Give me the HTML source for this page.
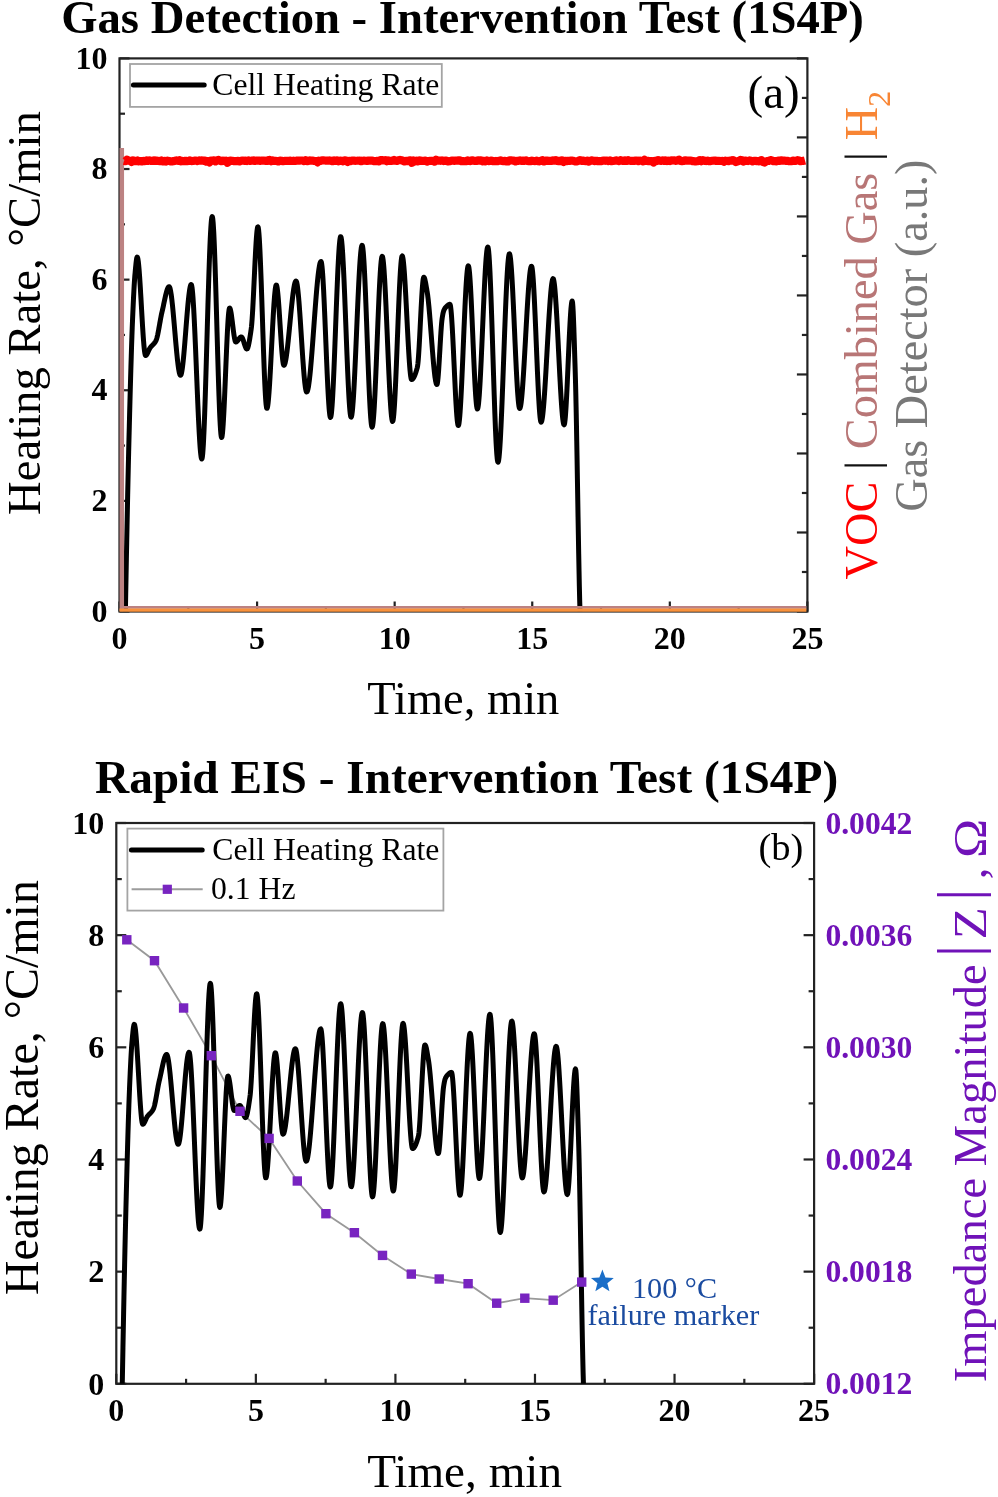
<!DOCTYPE html>
<html><head><meta charset="utf-8"><title>Gas Detection and Rapid EIS - Intervention Test (1S4P)</title>
<style>
html,body{margin:0;padding:0;background:#fff;}
svg{display:block;}
text{font-family:'Liberation Serif', 'Times New Roman', serif;}
</style></head><body>
<svg width="998" height="1497" viewBox="0 0 998 1497">
<rect width="998" height="1497" fill="#fff"/>

<!-- plot a -->
<text x="61.2" y="33.1" font-size="46.7" font-weight="bold" fill="#000">Gas Detection - Intervention Test (1S4P)</text>
<g stroke="#222" stroke-width="2.2" fill="none">
<rect x="119.5" y="58.4" width="687.9" height="553.1"/>
<line x1="119.5" y1="611.50" x2="129.5" y2="611.50"/>
<line x1="119.5" y1="556.19" x2="125.0" y2="556.19"/>
<line x1="119.5" y1="500.88" x2="129.5" y2="500.88"/>
<line x1="119.5" y1="445.57" x2="125.0" y2="445.57"/>
<line x1="119.5" y1="390.26" x2="129.5" y2="390.26"/>
<line x1="119.5" y1="334.95" x2="125.0" y2="334.95"/>
<line x1="119.5" y1="279.64" x2="129.5" y2="279.64"/>
<line x1="119.5" y1="224.33" x2="125.0" y2="224.33"/>
<line x1="119.5" y1="169.02" x2="129.5" y2="169.02"/>
<line x1="119.5" y1="113.71" x2="125.0" y2="113.71"/>
<line x1="119.5" y1="58.40" x2="129.5" y2="58.40"/>
<line x1="119.50" y1="611.5" x2="119.50" y2="601.5"/>
<line x1="188.29" y1="611.5" x2="188.29" y2="606.5"/>
<line x1="257.08" y1="611.5" x2="257.08" y2="601.5"/>
<line x1="325.87" y1="611.5" x2="325.87" y2="606.5"/>
<line x1="394.66" y1="611.5" x2="394.66" y2="601.5"/>
<line x1="463.45" y1="611.5" x2="463.45" y2="606.5"/>
<line x1="532.24" y1="611.5" x2="532.24" y2="601.5"/>
<line x1="601.03" y1="611.5" x2="601.03" y2="606.5"/>
<line x1="669.82" y1="611.5" x2="669.82" y2="601.5"/>
<line x1="738.61" y1="611.5" x2="738.61" y2="606.5"/>
<line x1="807.40" y1="611.5" x2="807.40" y2="601.5"/>
<line x1="807.4" y1="611.50" x2="796.9" y2="611.50"/>
<line x1="807.4" y1="571.99" x2="801.9" y2="571.99"/>
<line x1="807.4" y1="532.49" x2="796.9" y2="532.49"/>
<line x1="807.4" y1="492.98" x2="801.9" y2="492.98"/>
<line x1="807.4" y1="453.47" x2="796.9" y2="453.47"/>
<line x1="807.4" y1="413.96" x2="801.9" y2="413.96"/>
<line x1="807.4" y1="374.46" x2="796.9" y2="374.46"/>
<line x1="807.4" y1="334.95" x2="801.9" y2="334.95"/>
<line x1="807.4" y1="295.44" x2="796.9" y2="295.44"/>
<line x1="807.4" y1="255.94" x2="801.9" y2="255.94"/>
<line x1="807.4" y1="216.43" x2="796.9" y2="216.43"/>
<line x1="807.4" y1="176.92" x2="801.9" y2="176.92"/>
<line x1="807.4" y1="137.41" x2="796.9" y2="137.41"/>
<line x1="807.4" y1="97.91" x2="801.9" y2="97.91"/>
<line x1="807.4" y1="58.40" x2="796.9" y2="58.40"/>
</g>
<polyline points="125.40,611.50 125.72,593.31 126.05,576.06 126.37,559.07 126.70,542.41 127.02,526.13 127.35,510.26 127.67,494.87 128.00,480.01 128.32,465.73 128.65,452.07 128.97,439.08 129.30,426.40 129.62,413.91 129.95,401.68 130.27,389.75 130.60,378.18 130.92,367.03 131.25,356.36 131.57,346.22 131.90,336.67 132.22,327.77 132.55,319.56 132.87,312.03 133.20,304.81 133.52,297.94 133.85,291.53 134.17,285.67 134.50,280.47 134.82,276.05 135.15,272.38 135.47,268.82 135.80,265.40 136.12,262.32 136.45,259.77 136.77,257.95 137.10,257.06 137.42,257.20 137.75,258.20 138.07,259.97 138.40,262.44 138.72,265.54 139.05,269.20 139.37,273.36 139.70,277.95 140.02,282.89 140.35,288.13 140.67,293.58 141.00,299.19 141.32,304.88 141.65,310.60 141.97,316.25 142.30,321.79 142.62,327.14 142.95,332.23 143.27,337.00 143.60,341.37 143.92,345.28 144.25,348.66 144.57,351.43 144.90,353.54 145.22,354.92 145.55,355.49 145.87,355.44 146.20,355.23 146.52,354.87 146.85,354.40 147.17,353.84 147.50,353.20 147.82,352.50 148.15,351.77 148.47,351.03 148.80,350.30 149.12,349.60 149.45,348.94 149.77,348.36 150.10,347.86 150.42,347.42 150.75,347.01 151.07,346.63 151.40,346.27 151.72,345.93 152.05,345.60 152.37,345.27 152.70,344.95 153.02,344.62 153.35,344.29 153.67,343.93 154.00,343.56 154.32,343.17 154.65,342.74 154.97,342.27 155.30,341.77 155.62,341.21 155.94,340.61 156.27,339.89 156.59,338.98 156.92,337.88 157.24,336.62 157.57,335.21 157.89,333.69 158.22,332.06 158.54,330.34 158.87,328.56 159.19,326.74 159.52,324.89 159.84,323.03 160.17,321.19 160.49,319.38 160.82,317.62 161.14,315.94 161.47,314.35 161.79,312.87 162.12,311.51 162.44,310.12 162.77,308.67 163.09,307.18 163.42,305.66 163.74,304.11 164.07,302.56 164.39,301.01 164.72,299.48 165.04,297.98 165.37,296.52 165.69,295.11 166.02,293.77 166.34,292.50 166.67,291.33 166.99,290.26 167.32,289.31 167.64,288.49 167.97,287.80 168.29,287.27 168.62,286.91 168.94,286.72 169.27,286.76 169.59,287.18 169.92,288.00 170.24,289.19 170.57,290.73 170.89,292.58 171.22,294.73 171.54,297.16 171.87,299.83 172.19,302.72 172.52,305.81 172.84,309.07 173.17,312.48 173.49,316.02 173.82,319.65 174.14,323.36 174.47,327.12 174.79,330.91 175.12,334.69 175.44,338.45 175.77,342.16 176.09,345.80 176.42,349.34 176.74,352.76 177.07,356.03 177.39,359.13 177.72,362.03 178.04,364.71 178.37,367.15 178.69,369.32 179.02,371.19 179.34,372.74 179.67,373.95 179.99,374.79 180.32,375.23 180.64,375.25 180.97,374.80 181.29,373.89 181.62,372.54 181.94,370.81 182.27,368.70 182.59,366.26 182.92,363.51 183.24,360.48 183.57,357.21 183.89,353.73 184.22,350.06 184.54,346.24 184.87,342.29 185.19,338.26 185.52,334.16 185.84,330.03 186.16,325.90 186.49,321.79 186.81,317.75 187.14,313.80 187.46,309.97 187.79,306.29 188.11,302.80 188.44,299.51 188.76,296.47 189.09,293.70 189.41,291.24 189.74,289.11 190.06,287.35 190.39,285.98 190.71,285.04 191.04,284.56 191.36,284.62 191.69,285.58 192.01,287.43 192.34,290.11 192.66,293.57 192.99,297.73 193.31,302.55 193.64,307.96 193.96,313.90 194.29,320.31 194.61,327.13 194.94,334.31 195.26,341.77 195.59,349.46 195.91,357.32 196.24,365.29 196.56,373.31 196.89,381.32 197.21,389.25 197.54,397.06 197.86,404.67 198.19,412.02 198.51,419.07 198.84,425.74 199.16,431.97 199.49,437.71 199.81,442.90 200.14,447.47 200.46,451.37 200.79,454.53 201.11,456.89 201.44,458.40 201.76,458.99 202.09,458.45 202.41,456.58 202.74,453.45 203.06,449.15 203.39,443.78 203.71,437.42 204.04,430.17 204.36,422.10 204.69,413.32 205.01,403.90 205.34,393.94 205.66,383.52 205.99,372.74 206.31,361.69 206.64,350.44 206.96,339.10 207.29,327.74 207.61,316.46 207.94,305.35 208.26,294.50 208.59,283.99 208.91,273.91 209.24,264.36 209.56,255.42 209.89,247.17 210.21,239.72 210.54,233.14 210.86,227.53 211.19,222.97 211.51,219.55 211.84,217.37 212.16,216.51 212.49,217.10 212.81,219.18 213.14,222.63 213.46,227.36 213.79,233.24 214.11,240.17 214.44,248.05 214.76,256.75 215.09,266.18 215.41,276.22 215.74,286.76 216.06,297.69 216.38,308.91 216.71,320.30 217.03,331.76 217.36,343.16 217.68,354.42 218.01,365.41 218.33,376.02 218.66,386.16 218.98,395.69 219.31,404.53 219.63,412.55 219.96,419.65 220.28,425.72 220.61,430.65 220.93,434.33 221.26,436.65 221.58,437.50 221.91,436.94 222.23,435.19 222.56,432.36 222.88,428.56 223.21,423.89 223.53,418.46 223.86,412.36 224.18,405.70 224.51,398.59 224.83,391.13 225.16,383.43 225.48,375.58 225.81,367.69 226.13,359.88 226.46,352.23 226.78,344.86 227.11,337.86 227.43,331.35 227.76,325.43 228.08,320.20 228.41,315.77 228.73,312.23 229.06,309.70 229.38,308.28 229.71,308.03 230.03,308.47 230.36,309.40 230.68,310.75 231.01,312.46 231.33,314.48 231.66,316.75 231.98,319.20 232.31,321.79 232.63,324.44 232.96,327.11 233.28,329.73 233.61,332.25 233.93,334.60 234.26,336.73 234.58,338.58 234.91,340.09 235.23,341.20 235.56,341.85 235.88,342.00 236.21,341.92 236.53,341.75 236.86,341.51 237.18,341.20 237.51,340.83 237.83,340.43 238.16,339.99 238.48,339.55 238.81,339.09 239.13,338.65 239.46,338.24 239.78,337.85 240.11,337.52 240.43,337.24 240.76,337.04 241.08,336.92 241.41,336.91 241.73,337.10 242.06,337.50 242.38,338.08 242.71,338.80 243.03,339.65 243.36,340.59 243.68,341.60 244.01,342.64 244.33,343.69 244.66,344.73 244.98,345.71 245.31,346.61 245.63,347.42 245.96,348.08 246.28,348.59 246.61,348.90 246.93,349.00 247.25,348.80 247.58,348.28 247.90,347.47 248.23,346.39 248.55,345.08 248.88,343.56 249.20,341.86 249.53,340.00 249.85,338.01 250.18,335.92 250.50,333.76 250.83,331.54 251.15,329.31 251.48,326.72 251.80,323.22 252.13,318.92 252.45,313.91 252.78,308.32 253.10,302.24 253.43,295.78 253.75,289.06 254.08,282.18 254.40,275.26 254.73,268.39 255.05,261.69 255.38,255.27 255.70,249.23 256.03,243.68 256.35,238.74 256.68,234.50 257.00,231.09 257.33,228.60 257.65,227.15 257.98,226.84 258.30,227.86 258.63,230.17 258.95,233.68 259.28,238.27 259.60,243.85 259.93,250.32 260.25,257.56 260.58,265.48 260.90,273.98 261.23,282.95 261.55,292.29 261.88,301.90 262.20,311.67 262.53,321.51 262.85,331.30 263.18,340.95 263.50,350.36 263.83,359.42 264.15,368.03 264.48,376.08 264.80,383.48 265.13,390.12 265.45,395.90 265.78,400.72 266.10,404.47 266.43,407.05 266.75,408.35 267.08,408.37 267.40,407.48 267.73,405.80 268.05,403.39 268.38,400.32 268.70,396.63 269.03,392.40 269.35,387.69 269.68,382.55 270.00,377.04 270.33,371.24 270.65,365.20 270.98,358.98 271.30,352.64 271.63,346.24 271.95,339.85 272.28,333.52 272.60,327.33 272.93,321.32 273.25,315.56 273.58,310.11 273.90,305.03 274.23,300.39 274.55,296.24 274.88,292.65 275.20,289.68 275.53,287.38 275.85,285.82 276.18,285.06 276.50,285.16 276.83,286.10 277.15,287.79 277.47,290.16 277.80,293.15 278.12,296.66 278.45,300.64 278.77,305.00 279.10,309.66 279.42,314.56 279.75,319.61 280.07,324.75 280.40,329.89 280.72,334.96 281.05,339.88 281.37,344.59 281.70,349.00 282.02,353.04 282.35,356.63 282.67,359.71 283.00,362.18 283.32,363.99 283.65,365.04 283.97,365.29 284.30,365.03 284.62,364.43 284.95,363.51 285.27,362.29 285.60,360.78 285.92,359.02 286.25,357.01 286.57,354.77 286.90,352.34 287.22,349.72 287.55,346.93 287.87,344.00 288.20,340.95 288.52,337.79 288.85,334.54 289.17,331.23 289.50,327.87 289.82,324.48 290.15,321.08 290.47,317.70 290.80,314.35 291.12,311.05 291.45,307.82 291.77,304.68 292.10,301.65 292.42,298.75 292.75,296.00 293.07,293.42 293.40,291.02 293.72,288.84 294.05,286.88 294.37,285.17 294.70,283.72 295.02,282.56 295.35,281.71 295.67,281.18 296.00,281.00 296.32,281.30 296.65,282.17 296.97,283.58 297.30,285.50 297.62,287.88 297.95,290.68 298.27,293.88 298.60,297.44 298.92,301.30 299.25,305.45 299.57,309.84 299.90,314.43 300.22,319.20 300.55,324.08 300.87,329.07 301.20,334.10 301.52,339.16 301.85,344.19 302.17,349.17 302.50,354.06 302.82,358.81 303.15,363.39 303.47,367.77 303.80,371.90 304.12,375.76 304.45,379.29 304.77,382.47 305.10,385.26 305.42,387.62 305.75,389.51 306.07,390.89 306.40,391.73 306.72,392.00 307.05,391.78 307.37,391.17 307.69,390.19 308.02,388.87 308.34,387.22 308.67,385.25 308.99,383.00 309.32,380.47 309.64,377.68 309.97,374.65 310.29,371.41 310.62,367.96 310.94,364.33 311.27,360.54 311.59,356.60 311.92,352.54 312.24,348.36 312.57,344.10 312.89,339.76 313.22,335.37 313.54,330.94 313.87,326.49 314.19,322.05 314.52,317.62 314.84,313.23 315.17,308.90 315.49,304.65 315.82,300.48 316.14,296.43 316.47,292.51 316.79,288.73 317.12,285.13 317.44,281.70 317.77,278.48 318.09,275.48 318.42,272.73 318.74,270.23 319.07,268.00 319.39,266.07 319.72,264.46 320.04,263.18 320.37,262.24 320.69,261.68 321.02,261.50 321.34,262.09 321.67,263.70 321.99,266.25 322.32,269.66 322.64,273.87 322.97,278.79 323.29,284.35 323.62,290.48 323.94,297.10 324.27,304.14 324.59,311.51 324.92,319.16 325.24,326.99 325.57,334.95 325.89,342.94 326.22,350.91 326.54,358.76 326.87,366.43 327.19,373.85 327.52,380.93 327.84,387.61 328.17,393.80 328.49,399.44 328.82,404.45 329.14,408.75 329.47,412.26 329.79,414.93 330.12,416.66 330.44,417.38 330.77,417.04 331.09,415.65 331.42,413.29 331.74,410.02 332.07,405.92 332.39,401.06 332.72,395.51 333.04,389.33 333.37,382.61 333.69,375.39 334.02,367.77 334.34,359.81 334.67,351.57 334.99,343.13 335.32,334.56 335.64,325.93 335.97,317.30 336.29,308.76 336.62,300.37 336.94,292.19 337.27,284.30 337.59,276.77 337.91,269.68 338.24,263.08 338.56,257.05 338.89,251.66 339.21,246.98 339.54,243.09 339.86,240.04 340.19,237.91 340.51,236.78 340.84,236.70 341.16,237.65 341.49,239.56 341.81,242.38 342.14,246.02 342.46,250.43 342.79,255.53 343.11,261.28 343.44,267.58 343.76,274.39 344.09,281.63 344.41,289.24 344.74,297.16 345.06,305.31 345.39,313.62 345.71,322.05 346.04,330.51 346.36,338.94 346.69,347.28 347.01,355.46 347.34,363.41 347.66,371.07 347.99,378.37 348.31,385.25 348.64,391.63 348.96,397.46 349.29,402.66 349.61,407.18 349.94,410.94 350.26,413.88 350.59,415.93 350.91,417.03 351.24,417.12 351.56,416.31 351.89,414.68 352.21,412.28 352.54,409.16 352.86,405.38 353.19,400.98 353.51,396.02 353.84,390.56 354.16,384.65 354.49,378.34 354.81,371.68 355.14,364.73 355.46,357.54 355.79,350.17 356.11,342.66 356.44,335.07 356.76,327.46 357.09,319.87 357.41,312.36 357.74,304.98 358.06,297.79 358.39,290.84 358.71,284.19 359.04,277.87 359.36,271.96 359.69,266.50 360.01,261.54 360.34,257.14 360.66,253.35 360.99,250.23 361.31,247.83 361.64,246.19 361.96,245.38 362.29,245.49 362.61,246.67 362.94,248.90 363.26,252.08 363.59,256.15 363.91,261.02 364.24,266.63 364.56,272.90 364.89,279.76 365.21,287.12 365.54,294.93 365.86,303.09 366.19,311.53 366.51,320.19 366.84,328.98 367.16,337.84 367.49,346.68 367.81,355.43 368.13,364.02 368.46,372.37 368.78,380.41 369.11,388.06 369.43,395.24 369.76,401.89 370.08,407.92 370.41,413.27 370.73,417.86 371.06,421.60 371.38,424.44 371.71,426.29 372.03,427.08 372.36,426.77 372.68,425.45 373.01,423.20 373.33,420.07 373.66,416.15 373.98,411.49 374.31,406.16 374.63,400.24 374.96,393.79 375.28,386.88 375.61,379.58 375.93,371.96 376.26,364.08 376.58,356.01 376.91,347.82 377.23,339.58 377.56,331.36 377.88,323.23 378.21,315.25 378.53,307.49 378.86,300.02 379.18,292.91 379.51,286.23 379.83,280.05 380.16,274.42 380.48,269.43 380.81,265.14 381.13,261.62 381.46,258.93 381.78,257.15 382.11,256.34 382.43,256.54 382.76,257.67 383.08,259.66 383.41,262.46 383.73,266.00 384.06,270.22 384.38,275.06 384.71,280.46 385.03,286.36 385.36,292.71 385.68,299.43 386.01,306.47 386.33,313.77 386.66,321.28 386.98,328.91 387.31,336.63 387.63,344.36 387.96,352.06 388.28,359.64 388.61,367.07 388.93,374.26 389.26,381.18 389.58,387.75 389.91,393.91 390.23,399.61 390.56,404.78 390.88,409.36 391.21,413.30 391.53,416.53 391.86,418.99 392.18,420.62 392.51,421.36 392.83,421.12 393.16,419.80 393.48,417.48 393.81,414.23 394.13,410.13 394.46,405.25 394.78,399.68 395.11,393.48 395.43,386.74 395.76,379.54 396.08,371.95 396.41,364.04 396.73,355.90 397.06,347.60 397.38,339.21 397.71,330.83 398.03,322.51 398.35,314.35 398.68,306.41 399.00,298.77 399.33,291.51 399.65,284.71 399.98,278.45 400.30,272.80 400.63,267.83 400.95,263.63 401.28,260.27 401.60,257.83 401.93,256.39 402.25,256.01 402.58,256.59 402.90,257.98 403.23,260.12 403.55,262.95 403.88,266.41 404.20,270.45 404.53,274.99 404.85,279.97 405.18,285.35 405.50,291.04 405.83,297.00 406.15,303.17 406.48,309.47 406.80,315.85 407.13,322.25 407.45,328.61 407.78,334.86 408.10,340.95 408.43,346.81 408.75,352.38 409.08,357.60 409.40,362.42 409.73,366.76 410.05,370.57 410.38,373.78 410.70,376.34 411.03,378.18 411.35,379.25 411.68,379.50 412.00,379.42 412.33,379.25 412.65,378.99 412.98,378.64 413.30,378.21 413.63,377.70 413.95,377.11 414.28,376.44 414.60,375.71 414.93,374.92 415.25,374.06 415.58,373.14 415.90,372.18 416.23,371.16 416.55,370.10 416.88,368.99 417.20,367.85 417.53,366.42 417.85,364.00 418.18,360.65 418.50,356.51 418.83,351.68 419.15,346.29 419.48,340.44 419.80,334.27 420.13,327.88 420.45,321.40 420.78,314.94 421.10,308.62 421.43,302.55 421.75,296.87 422.08,291.68 422.40,287.10 422.73,283.25 423.05,280.25 423.38,278.21 423.70,277.26 424.03,277.31 424.35,277.83 424.68,278.73 425.00,279.94 425.33,281.42 425.65,283.09 425.98,284.91 426.30,286.82 426.63,288.75 426.95,290.65 427.28,292.54 427.60,294.73 427.93,297.24 428.25,300.06 428.57,303.15 428.90,306.48 429.22,310.02 429.55,313.75 429.87,317.64 430.20,321.65 430.52,325.76 430.85,329.93 431.17,334.15 431.50,338.39 431.82,342.60 432.15,346.78 432.47,350.87 432.80,354.87 433.12,358.73 433.45,362.44 433.77,365.96 434.10,369.26 434.42,372.31 434.75,375.09 435.07,377.57 435.40,379.71 435.72,381.50 436.05,382.90 436.37,383.87 436.70,384.41 437.02,384.41 437.35,383.37 437.67,381.27 438.00,378.25 438.32,374.45 438.65,370.00 438.97,365.05 439.30,359.72 439.62,354.17 439.95,348.51 440.27,342.90 440.60,337.48 440.92,332.37 441.25,327.71 441.57,323.65 441.90,320.32 442.22,317.86 442.55,315.89 442.87,314.10 443.20,312.55 443.52,311.29 443.85,310.39 444.17,309.68 444.50,309.06 444.82,308.50 445.15,308.02 445.47,307.59 445.80,307.20 446.12,306.86 446.45,306.55 446.77,306.25 447.10,305.95 447.42,305.65 447.75,305.37 448.07,305.11 448.40,304.87 448.72,304.67 449.05,304.50 449.37,304.38 449.70,304.31 450.02,304.38 450.35,305.29 450.67,307.18 451.00,309.96 451.32,313.54 451.65,317.85 451.97,322.79 452.30,328.28 452.62,334.24 452.95,340.58 453.27,347.22 453.60,354.08 453.92,361.07 454.25,368.11 454.57,375.10 454.90,381.98 455.22,388.65 455.55,395.02 455.87,401.03 456.20,406.57 456.52,411.57 456.85,415.95 457.17,419.61 457.50,422.47 457.82,424.46 458.15,425.48 458.47,425.46 458.79,424.46 459.12,422.55 459.44,419.80 459.77,416.26 460.09,412.01 460.42,407.10 460.74,401.62 461.07,395.62 461.39,389.16 461.72,382.32 462.04,375.16 462.37,367.75 462.69,360.15 463.02,352.42 463.34,344.64 463.67,336.87 463.99,329.17 464.32,321.61 464.64,314.26 464.97,307.18 465.29,300.44 465.62,294.10 465.94,288.23 466.27,282.90 466.59,278.17 466.92,274.11 467.24,270.77 467.57,268.24 467.89,266.57 468.22,265.83 468.54,266.10 468.87,267.41 469.19,269.67 469.52,272.81 469.84,276.76 470.17,281.43 470.49,286.74 470.82,292.62 471.14,299.00 471.47,305.78 471.79,312.90 472.12,320.27 472.44,327.81 472.77,335.46 473.09,343.12 473.42,350.73 473.74,358.20 474.07,365.45 474.39,372.41 474.72,379.00 475.04,385.14 475.37,390.76 475.69,395.76 476.02,400.08 476.34,403.64 476.67,406.36 476.99,408.16 477.32,408.96 477.64,408.74 477.97,407.61 478.29,405.63 478.62,402.87 478.94,399.38 479.27,395.22 479.59,390.45 479.92,385.13 480.24,379.33 480.57,373.09 480.89,366.49 481.22,359.57 481.54,352.40 481.87,345.03 482.19,337.53 482.52,329.96 482.84,322.37 483.17,314.83 483.49,307.39 483.82,300.11 484.14,293.05 484.47,286.28 484.79,279.84 485.12,273.81 485.44,268.23 485.77,263.17 486.09,258.69 486.42,254.85 486.74,251.70 487.07,249.31 487.39,247.73 487.72,247.03 488.04,247.35 488.37,248.91 488.69,251.63 489.02,255.43 489.34,260.23 489.66,265.95 489.99,272.50 490.31,279.79 490.64,287.75 490.96,296.29 491.29,305.33 491.61,314.78 491.94,324.56 492.26,334.59 492.59,344.78 492.91,355.05 493.24,365.32 493.56,375.50 493.89,385.51 494.21,395.27 494.54,404.69 494.86,413.68 495.19,422.18 495.51,430.08 495.84,437.31 496.16,443.79 496.49,449.43 496.81,454.14 497.14,457.86 497.46,460.48 497.79,461.93 498.11,462.14 498.44,461.30 498.76,459.52 499.09,456.86 499.41,453.39 499.74,449.14 500.06,444.19 500.39,438.60 500.71,432.41 501.04,425.69 501.36,418.49 501.69,410.88 502.01,402.91 502.34,394.64 502.66,386.13 502.99,377.43 503.31,368.61 503.64,359.71 503.96,350.81 504.29,341.95 504.61,333.19 504.94,324.60 505.26,316.23 505.59,308.14 505.91,300.38 506.24,293.02 506.56,286.11 506.89,279.71 507.21,273.88 507.54,268.68 507.86,264.16 508.19,260.38 508.51,257.40 508.84,255.28 509.16,254.07 509.49,253.83 509.81,254.52 510.14,256.06 510.46,258.39 510.79,261.45 511.11,265.19 511.44,269.55 511.76,274.46 512.09,279.88 512.41,285.73 512.74,291.97 513.06,298.54 513.39,305.37 513.71,312.41 514.04,319.61 514.36,326.89 514.69,334.21 515.01,341.50 515.34,348.71 515.66,355.78 515.99,362.65 516.31,369.27 516.64,375.57 516.96,381.49 517.29,386.98 517.61,391.98 517.94,396.43 518.26,400.28 518.59,403.46 518.91,405.91 519.24,407.58 519.56,408.42 519.88,408.40 520.21,407.73 520.53,406.46 520.86,404.65 521.18,402.31 521.51,399.49 521.83,396.21 522.16,392.53 522.48,388.47 522.81,384.06 523.13,379.35 523.46,374.37 523.78,369.16 524.11,363.74 524.43,358.16 524.76,352.46 525.08,346.66 525.41,340.80 525.73,334.93 526.06,329.07 526.38,323.25 526.71,317.53 527.03,311.93 527.36,306.48 527.68,301.23 528.01,296.20 528.33,291.44 528.66,286.98 528.98,282.86 529.31,279.10 529.63,275.76 529.96,272.85 530.28,270.43 530.61,268.52 530.93,267.15 531.26,266.38 531.58,266.23 531.91,267.02 532.23,268.79 532.56,271.46 532.88,274.98 533.21,279.25 533.53,284.22 533.86,289.80 534.18,295.94 534.51,302.54 534.83,309.54 535.16,316.88 535.48,324.46 535.81,332.23 536.13,340.11 536.46,348.03 536.78,355.91 537.11,363.69 537.43,371.28 537.76,378.62 538.08,385.64 538.41,392.26 538.73,398.40 539.06,404.01 539.38,409.00 539.71,413.30 540.03,416.83 540.36,419.54 540.68,421.34 541.01,422.16 541.33,422.04 541.66,421.30 541.98,419.99 542.31,418.14 542.63,415.79 542.96,412.96 543.28,409.70 543.61,406.04 543.93,402.01 544.26,397.65 544.58,392.98 544.91,388.05 545.23,382.90 545.56,377.54 545.88,372.02 546.21,366.37 546.53,360.63 546.86,354.83 547.18,349.01 547.51,343.19 547.83,337.41 548.16,331.72 548.48,326.13 548.81,320.69 549.13,315.42 549.46,310.38 549.78,305.57 550.10,301.06 550.43,296.85 550.75,293.00 551.08,289.53 551.40,286.48 551.73,283.89 552.05,281.78 552.38,280.19 552.70,279.16 553.03,278.71 553.35,278.93 553.68,279.87 554.00,281.50 554.33,283.77 554.65,286.63 554.98,290.03 555.30,293.95 555.63,298.32 555.95,303.10 556.28,308.25 556.60,313.73 556.93,319.48 557.25,325.46 557.58,331.64 557.90,337.95 558.23,344.36 558.55,350.82 558.88,357.29 559.20,363.72 559.53,370.07 559.85,376.29 560.18,382.33 560.50,388.15 560.83,393.71 561.15,398.96 561.48,403.86 561.80,408.35 562.13,412.40 562.45,415.95 562.78,418.98 563.10,421.42 563.43,423.23 563.75,424.37 564.08,424.80 564.40,424.29 564.73,422.69 565.05,420.07 565.38,416.53 565.70,412.18 566.03,407.11 566.35,401.41 566.68,395.18 567.00,388.51 567.33,381.51 567.65,374.26 567.98,366.86 568.30,359.42 568.63,352.02 568.95,344.76 569.28,337.73 569.60,331.04 569.93,324.78 570.25,319.04 570.58,313.93 570.90,309.52 571.23,305.94 571.55,303.25 571.88,301.58 572.20,301.00 572.53,302.32 572.85,306.01 573.18,311.73 573.50,319.11 573.83,327.81 574.15,337.47 574.48,347.74 574.80,358.26 575.13,368.67 575.45,379.52 575.78,392.47 576.10,407.29 576.43,423.64 576.75,441.21 577.08,459.66 577.40,478.67 577.73,497.92 578.05,517.09 578.38,535.83 578.70,553.85 579.03,570.79 579.35,586.35 579.68,600.20 580.00,611.50" fill="none" stroke="#000" stroke-width="5.0" stroke-linejoin="round" stroke-linecap="butt"/>
<line x1="121.8" y1="611" x2="121.8" y2="148" stroke="#bc8282" stroke-width="4.5"/>
<line x1="120" y1="607.3" x2="806.4" y2="607.3" stroke="#bc8282" stroke-width="2.8"/>
<line x1="119.5" y1="610.2" x2="806.4" y2="610.2" stroke="#f8923c" stroke-width="3.3"/>
<polyline points="124.0,160.83 125.5,161.24 127.0,159.71 128.5,160.71 130.0,160.91 131.5,161.95 133.0,160.31 134.5,160.87 136.0,161.09 137.5,160.49 139.0,161.34 140.5,161.03 142.0,161.49 143.5,160.94 145.0,161.20 146.5,160.42 148.0,160.92 149.5,160.44 151.0,160.95 152.5,160.91 154.0,160.35 155.5,160.99 157.0,160.55 158.5,161.01 160.0,161.24 161.5,160.50 163.0,161.32 164.5,160.77 166.0,161.54 167.5,160.63 169.0,160.96 170.5,161.44 172.0,161.43 173.5,161.07 175.0,160.91 176.5,160.46 178.0,160.88 179.5,160.09 181.0,161.34 182.5,160.96 184.0,161.21 185.5,160.75 187.0,161.22 188.5,161.02 190.0,160.40 191.5,161.06 193.0,161.00 194.5,160.58 196.0,160.52 197.5,161.07 199.0,160.43 200.5,160.55 202.0,160.43 203.5,160.78 205.0,160.50 206.5,161.72 208.0,161.16 209.5,162.43 211.0,160.64 212.5,160.70 214.0,160.33 215.5,161.42 217.0,160.33 218.5,159.83 220.0,160.80 221.5,161.19 223.0,160.60 224.5,161.03 226.0,160.69 227.5,162.72 229.0,160.72 230.5,160.63 232.0,160.76 233.5,161.11 235.0,161.19 236.5,161.07 238.0,160.90 239.5,161.43 241.0,160.79 242.5,160.55 244.0,160.82 245.5,160.71 247.0,161.04 248.5,160.41 250.0,160.87 251.5,160.67 253.0,160.43 254.5,161.00 256.0,160.61 257.5,160.58 259.0,160.60 260.5,160.92 262.0,160.50 263.5,160.51 265.0,160.78 266.5,160.71 268.0,160.79 269.5,159.90 271.0,161.25 272.5,160.27 274.0,160.80 275.5,160.89 277.0,161.03 278.5,161.49 280.0,160.62 281.5,160.82 283.0,161.23 284.5,160.85 286.0,160.94 287.5,160.92 289.0,160.85 290.5,160.68 292.0,160.93 293.5,160.69 295.0,160.94 296.5,160.68 298.0,160.48 299.5,160.65 301.0,160.49 302.5,160.51 304.0,161.09 305.5,160.17 307.0,161.18 308.5,160.92 310.0,160.40 311.5,160.76 313.0,160.54 314.5,161.03 316.0,161.17 317.5,162.37 319.0,160.70 320.5,160.90 322.0,160.32 323.5,160.43 325.0,160.53 326.5,160.54 328.0,160.69 329.5,160.45 331.0,160.81 332.5,161.23 334.0,160.47 335.5,160.97 337.0,160.27 338.5,161.33 340.0,160.63 341.5,160.84 343.0,161.27 344.5,160.40 346.0,160.65 347.5,161.94 349.0,160.83 350.5,161.15 352.0,160.62 353.5,160.51 355.0,160.85 356.5,160.74 358.0,160.71 359.5,160.53 361.0,161.25 362.5,160.79 364.0,160.65 365.5,160.75 367.0,160.95 368.5,160.64 370.0,160.57 371.5,160.49 373.0,160.79 374.5,161.27 376.0,161.13 377.5,160.73 379.0,161.31 380.5,160.04 382.0,160.10 383.5,160.42 385.0,160.21 386.5,161.23 388.0,160.26 389.5,160.86 391.0,160.92 392.5,160.65 394.0,159.99 395.5,160.72 397.0,160.90 398.5,160.29 400.0,159.93 401.5,160.29 403.0,160.73 404.5,161.43 406.0,160.83 407.5,161.20 409.0,160.62 410.5,160.29 412.0,162.81 413.5,160.51 415.0,161.38 416.5,160.60 418.0,161.42 419.5,160.41 421.0,161.02 422.5,160.90 424.0,160.83 425.5,160.61 427.0,161.59 428.5,160.99 430.0,160.86 431.5,160.94 433.0,160.73 434.5,161.57 436.0,159.77 437.5,160.48 439.0,160.56 440.5,160.82 442.0,160.46 443.5,161.08 445.0,160.71 446.5,160.65 448.0,161.48 449.5,161.28 451.0,160.81 452.5,160.51 454.0,160.89 455.5,160.54 457.0,160.60 458.5,160.42 460.0,160.47 461.5,161.25 463.0,161.01 464.5,161.26 466.0,161.19 467.5,160.47 469.0,161.00 470.5,161.04 472.0,160.32 473.5,160.63 475.0,160.86 476.5,160.92 478.0,160.25 479.5,160.65 481.0,160.27 482.5,161.28 484.0,160.81 485.5,161.40 487.0,160.44 488.5,161.05 490.0,160.90 491.5,160.66 493.0,161.26 494.5,161.20 496.0,160.94 497.5,161.14 499.0,160.80 500.5,160.33 502.0,160.95 503.5,161.20 505.0,160.80 506.5,161.41 508.0,161.46 509.5,160.26 511.0,160.37 512.5,160.55 514.0,160.59 515.5,161.46 517.0,160.80 518.5,160.78 520.0,160.37 521.5,160.82 523.0,160.71 524.5,160.78 526.0,160.38 527.5,160.96 529.0,161.21 530.5,161.27 532.0,160.64 533.5,161.00 535.0,161.08 536.5,160.67 538.0,161.26 539.5,161.32 541.0,160.68 542.5,160.24 544.0,161.43 545.5,160.51 547.0,160.63 548.5,160.82 550.0,160.86 551.5,161.00 553.0,160.44 554.5,160.71 556.0,160.23 557.5,160.93 559.0,161.25 560.5,160.47 562.0,160.34 563.5,161.91 565.0,160.78 566.5,161.14 568.0,160.84 569.5,160.86 571.0,160.67 572.5,160.65 574.0,161.07 575.5,161.42 577.0,161.34 578.5,160.91 580.0,160.03 581.5,160.83 583.0,160.63 584.5,160.95 586.0,161.20 587.5,160.55 589.0,161.63 590.5,160.70 592.0,160.35 593.5,160.83 595.0,161.11 596.5,160.79 598.0,161.21 599.5,161.06 601.0,161.21 602.5,160.85 604.0,160.49 605.5,160.78 607.0,160.59 608.5,161.14 610.0,160.37 611.5,161.19 613.0,161.01 614.5,160.73 616.0,160.38 617.5,160.67 619.0,161.17 620.5,160.20 622.0,160.66 623.5,160.97 625.0,160.29 626.5,160.99 628.0,160.22 629.5,160.77 631.0,160.90 632.5,160.77 634.0,160.87 635.5,160.66 637.0,160.60 638.5,161.23 640.0,160.72 641.5,160.73 643.0,161.28 644.5,159.85 646.0,160.96 647.5,160.75 649.0,161.24 650.5,161.05 652.0,161.09 653.5,162.41 655.0,160.74 656.5,161.03 658.0,160.04 659.5,160.78 661.0,160.88 662.5,160.42 664.0,160.96 665.5,160.36 667.0,161.05 668.5,160.71 670.0,161.04 671.5,160.33 673.0,160.53 674.5,160.33 676.0,160.85 677.5,160.51 679.0,159.67 680.5,160.92 682.0,161.09 683.5,160.95 685.0,160.26 686.5,160.61 688.0,160.61 689.5,160.65 691.0,160.61 692.5,161.12 694.0,161.21 695.5,161.50 697.0,161.28 698.5,160.76 700.0,160.06 701.5,161.22 703.0,160.20 704.5,160.86 706.0,161.06 707.5,160.66 709.0,161.26 710.5,161.12 712.0,160.74 713.5,160.72 715.0,160.51 716.5,160.93 718.0,160.76 719.5,160.96 721.0,160.98 722.5,160.89 724.0,161.77 725.5,160.66 727.0,160.96 728.5,161.06 730.0,160.48 731.5,160.71 733.0,160.09 734.5,160.97 736.0,162.03 737.5,161.43 739.0,160.84 740.5,159.86 742.0,160.24 743.5,161.52 745.0,160.54 746.5,160.82 748.0,161.04 749.5,160.39 751.0,160.76 752.5,161.32 754.0,160.75 755.5,160.87 757.0,161.10 758.5,161.31 760.0,160.77 761.5,160.13 763.0,161.90 764.5,162.56 766.0,161.40 767.5,161.04 769.0,160.82 770.5,160.11 772.0,160.46 773.5,161.16 775.0,161.22 776.5,161.31 778.0,160.53 779.5,160.90 781.0,160.35 782.5,160.71 784.0,160.55 785.5,160.82 787.0,160.76 788.5,161.10 790.0,161.23 791.5,161.23 793.0,160.67 794.5,160.86 796.0,160.81 797.5,160.14 799.0,160.51 800.5,161.22 802.0,161.03 803.5,160.87 805.0,160.46" fill="none" stroke="#ff0000" stroke-width="8.2" stroke-linejoin="round"/>
<rect x="130" y="64" width="311.8" height="42.9" fill="#fff" stroke="#a4a4a4" stroke-width="1.8"/>
<line x1="133.4" y1="85.1" x2="204.2" y2="85.1" stroke="#000" stroke-width="5" stroke-linecap="round"/>
<text x="212.3" y="95.3" font-size="31.7" fill="#000">Cell Heating Rate</text>
<text x="747.6" y="107.5" font-size="47" fill="#000">(a)</text>
<text x="107.6" y="621.6" font-size="32" font-weight="bold" text-anchor="end">0</text>
<text x="107.6" y="511.0" font-size="32" font-weight="bold" text-anchor="end">2</text>
<text x="107.6" y="400.4" font-size="32" font-weight="bold" text-anchor="end">4</text>
<text x="107.6" y="289.7" font-size="32" font-weight="bold" text-anchor="end">6</text>
<text x="107.6" y="179.1" font-size="32" font-weight="bold" text-anchor="end">8</text>
<text x="107.6" y="68.5" font-size="32" font-weight="bold" text-anchor="end">10</text>
<text x="119.5" y="648.6" font-size="32" font-weight="bold" text-anchor="middle">0</text>
<text x="257.1" y="648.6" font-size="32" font-weight="bold" text-anchor="middle">5</text>
<text x="394.7" y="648.6" font-size="32" font-weight="bold" text-anchor="middle">10</text>
<text x="532.2" y="648.6" font-size="32" font-weight="bold" text-anchor="middle">15</text>
<text x="669.8" y="648.6" font-size="32" font-weight="bold" text-anchor="middle">20</text>
<text x="807.4" y="648.6" font-size="32" font-weight="bold" text-anchor="middle">25</text>
<text x="463.3" y="714.3" font-size="46.5" text-anchor="middle">Time, min</text>
<text transform="translate(39.7,515) rotate(-90)" font-size="46.7">Heating Rate, °C/min</text>
<text transform="translate(876.9,335) rotate(-90)" font-size="46.3" text-anchor="middle"><tspan fill="#ff0000">VOC</tspan><tspan fill="#111"> | </tspan><tspan fill="#b87676">Combined Gas</tspan><tspan fill="#111"> | </tspan><tspan fill="#f88534">H</tspan><tspan fill="#f88534" font-size="32.5" dy="12.8">2</tspan></text>
<text transform="translate(926.6,335.7) rotate(-90)" font-size="46.3" text-anchor="middle" fill="#787878">Gas Detector (a.u.)</text>
<!-- plot b -->
<text x="95" y="792.9" font-size="47.35" font-weight="bold" fill="#000">Rapid EIS - Intervention Test (1S4P)</text>
<g stroke="#222" stroke-width="2.2" fill="none">
<rect x="116.3" y="823.0" width="697.8000000000001" height="560.8"/>
<line x1="116.3" y1="1383.80" x2="126.3" y2="1383.80"/>
<line x1="116.3" y1="1327.72" x2="121.8" y2="1327.72"/>
<line x1="116.3" y1="1271.64" x2="126.3" y2="1271.64"/>
<line x1="116.3" y1="1215.56" x2="121.8" y2="1215.56"/>
<line x1="116.3" y1="1159.48" x2="126.3" y2="1159.48"/>
<line x1="116.3" y1="1103.40" x2="121.8" y2="1103.40"/>
<line x1="116.3" y1="1047.32" x2="126.3" y2="1047.32"/>
<line x1="116.3" y1="991.24" x2="121.8" y2="991.24"/>
<line x1="116.3" y1="935.16" x2="126.3" y2="935.16"/>
<line x1="116.3" y1="879.08" x2="121.8" y2="879.08"/>
<line x1="116.3" y1="823.00" x2="126.3" y2="823.00"/>
<line x1="116.30" y1="1383.8" x2="116.30" y2="1373.8"/>
<line x1="186.08" y1="1383.8" x2="186.08" y2="1378.8"/>
<line x1="255.86" y1="1383.8" x2="255.86" y2="1373.8"/>
<line x1="325.64" y1="1383.8" x2="325.64" y2="1378.8"/>
<line x1="395.42" y1="1383.8" x2="395.42" y2="1373.8"/>
<line x1="465.20" y1="1383.8" x2="465.20" y2="1378.8"/>
<line x1="534.98" y1="1383.8" x2="534.98" y2="1373.8"/>
<line x1="604.76" y1="1383.8" x2="604.76" y2="1378.8"/>
<line x1="674.54" y1="1383.8" x2="674.54" y2="1373.8"/>
<line x1="744.32" y1="1383.8" x2="744.32" y2="1378.8"/>
<line x1="814.10" y1="1383.8" x2="814.10" y2="1373.8"/>
<line x1="814.1" y1="1383.80" x2="803.6" y2="1383.80"/>
<line x1="814.1" y1="1327.72" x2="808.6" y2="1327.72"/>
<line x1="814.1" y1="1271.64" x2="803.6" y2="1271.64"/>
<line x1="814.1" y1="1215.56" x2="808.6" y2="1215.56"/>
<line x1="814.1" y1="1159.48" x2="803.6" y2="1159.48"/>
<line x1="814.1" y1="1103.40" x2="808.6" y2="1103.40"/>
<line x1="814.1" y1="1047.32" x2="803.6" y2="1047.32"/>
<line x1="814.1" y1="991.24" x2="808.6" y2="991.24"/>
<line x1="814.1" y1="935.16" x2="803.6" y2="935.16"/>
<line x1="814.1" y1="879.08" x2="808.6" y2="879.08"/>
<line x1="814.1" y1="823.00" x2="803.6" y2="823.00"/>
</g>
<polyline points="126.8,939.8 154.5,960.7 183.6,1008.0 211.3,1055.7 240.0,1111.3 269.1,1138.4 297.3,1181.0 325.9,1213.7 354.4,1232.7 382.5,1255.4 411.3,1274.1 439.2,1279.0 468.1,1283.7 496.7,1303.2 524.8,1298.2 553.2,1300.2 581.7,1282.1" fill="none" stroke="#999" stroke-width="1.8"/>
<polyline points="122.28,1383.80 122.61,1365.35 122.94,1347.86 123.27,1330.64 123.60,1313.75 123.93,1297.24 124.26,1281.15 124.59,1265.55 124.92,1250.48 125.25,1236.00 125.58,1222.15 125.91,1208.97 126.24,1196.12 126.57,1183.46 126.90,1171.05 127.23,1158.96 127.56,1147.23 127.89,1135.93 128.22,1125.11 128.55,1114.83 128.88,1105.15 129.21,1096.12 129.54,1087.80 129.87,1080.16 130.20,1072.84 130.53,1065.88 130.86,1059.37 131.18,1053.43 131.51,1048.16 131.84,1043.68 132.17,1039.96 132.50,1036.35 132.83,1032.88 133.16,1029.76 133.49,1027.17 133.82,1025.33 134.15,1024.42 134.48,1024.57 134.81,1025.58 135.14,1027.38 135.47,1029.88 135.80,1033.02 136.13,1036.74 136.46,1040.95 136.79,1045.60 137.12,1050.62 137.45,1055.92 137.78,1061.46 138.11,1067.14 138.44,1072.92 138.77,1078.71 139.10,1084.44 139.43,1090.06 139.75,1095.48 140.08,1100.64 140.41,1105.48 140.74,1109.91 141.07,1113.87 141.40,1117.30 141.73,1120.11 142.06,1122.25 142.39,1123.65 142.72,1124.22 143.05,1124.18 143.38,1123.96 143.71,1123.60 144.04,1123.12 144.37,1122.55 144.70,1121.90 145.03,1121.20 145.36,1120.46 145.69,1119.71 146.02,1118.96 146.35,1118.25 146.68,1117.59 147.01,1116.99 147.34,1116.49 147.67,1116.04 148.00,1115.63 148.33,1115.24 148.65,1114.88 148.98,1114.53 149.31,1114.20 149.64,1113.87 149.97,1113.54 150.30,1113.21 150.63,1112.87 150.96,1112.51 151.29,1112.13 151.62,1111.73 151.95,1111.30 152.28,1110.82 152.61,1110.31 152.94,1109.75 153.27,1109.14 153.60,1108.41 153.93,1107.48 154.26,1106.37 154.59,1105.09 154.92,1103.67 155.25,1102.12 155.58,1100.47 155.91,1098.73 156.24,1096.92 156.57,1095.07 156.90,1093.20 157.22,1091.31 157.55,1089.45 157.88,1087.61 158.21,1085.83 158.54,1084.12 158.87,1082.51 159.20,1081.01 159.53,1079.63 159.86,1078.23 160.19,1076.76 160.52,1075.25 160.85,1073.70 161.18,1072.14 161.51,1070.56 161.84,1068.99 162.17,1067.44 162.50,1065.91 162.83,1064.43 163.16,1063.00 163.49,1061.64 163.82,1060.36 164.15,1059.17 164.48,1058.09 164.81,1057.13 165.14,1056.29 165.47,1055.60 165.80,1055.06 166.12,1054.69 166.45,1054.50 166.78,1054.54 167.11,1054.97 167.44,1055.80 167.77,1057.00 168.10,1058.56 168.43,1060.44 168.76,1062.62 169.09,1065.08 169.42,1067.79 169.75,1070.72 170.08,1073.85 170.41,1077.16 170.74,1080.62 171.07,1084.21 171.40,1087.89 171.73,1091.65 172.06,1095.46 172.39,1099.30 172.72,1103.14 173.05,1106.95 173.38,1110.71 173.71,1114.40 174.04,1117.99 174.37,1121.46 174.69,1124.77 175.02,1127.92 175.35,1130.86 175.68,1133.58 176.01,1136.05 176.34,1138.24 176.67,1140.14 177.00,1141.72 177.33,1142.94 177.66,1143.79 177.99,1144.24 178.32,1144.26 178.65,1143.80 178.98,1142.88 179.31,1141.52 179.64,1139.75 179.97,1137.62 180.30,1135.14 180.63,1132.35 180.96,1129.29 181.29,1125.97 181.62,1122.44 181.95,1118.72 182.28,1114.85 182.61,1110.85 182.94,1106.75 183.27,1102.60 183.59,1098.41 183.92,1094.22 184.25,1090.06 184.58,1085.96 184.91,1081.96 185.24,1078.07 185.57,1074.34 185.90,1070.80 186.23,1067.47 186.56,1064.39 186.89,1061.58 187.22,1059.08 187.55,1056.93 187.88,1055.14 188.21,1053.75 188.54,1052.80 188.87,1052.31 189.20,1052.37 189.53,1053.34 189.86,1055.22 190.19,1057.94 190.52,1061.44 190.85,1065.66 191.18,1070.55 191.51,1076.03 191.84,1082.06 192.16,1088.56 192.49,1095.48 192.82,1102.75 193.15,1110.31 193.48,1118.11 193.81,1126.08 194.14,1134.17 194.47,1142.30 194.80,1150.41 195.13,1158.46 195.46,1166.37 195.79,1174.09 196.12,1181.55 196.45,1188.69 196.78,1195.45 197.11,1201.77 197.44,1207.59 197.77,1212.85 198.10,1217.49 198.43,1221.44 198.76,1224.64 199.09,1227.04 199.42,1228.57 199.75,1229.17 200.08,1228.62 200.41,1226.72 200.74,1223.55 201.06,1219.19 201.39,1213.75 201.72,1207.30 202.05,1199.94 202.38,1191.77 202.71,1182.86 203.04,1173.31 203.37,1163.21 203.70,1152.65 204.03,1141.72 204.36,1130.51 204.69,1119.11 205.02,1107.60 205.35,1096.09 205.68,1084.66 206.01,1073.39 206.34,1062.39 206.67,1051.73 207.00,1041.51 207.33,1031.83 207.66,1022.76 207.99,1014.40 208.32,1006.84 208.65,1000.17 208.98,994.48 209.31,989.86 209.63,986.40 209.96,984.18 210.29,983.31 210.62,983.91 210.95,986.01 211.28,989.52 211.61,994.31 211.94,1000.27 212.27,1007.30 212.60,1015.29 212.93,1024.11 213.26,1033.67 213.59,1043.85 213.92,1054.54 214.25,1065.62 214.58,1077.00 214.91,1088.55 215.24,1100.16 215.57,1111.73 215.90,1123.14 216.23,1134.28 216.56,1145.05 216.89,1155.32 217.22,1164.99 217.55,1173.95 217.88,1182.08 218.21,1189.28 218.53,1195.44 218.86,1200.44 219.19,1204.16 219.52,1206.52 219.85,1207.38 220.18,1206.80 220.51,1205.03 220.84,1202.17 221.17,1198.32 221.50,1193.58 221.83,1188.07 222.16,1181.89 222.49,1175.14 222.82,1167.93 223.15,1160.36 223.48,1152.55 223.81,1144.59 224.14,1136.60 224.47,1128.67 224.80,1120.92 225.13,1113.44 225.46,1106.35 225.79,1099.75 226.12,1093.75 226.45,1088.45 226.78,1083.95 227.10,1080.37 227.43,1077.80 227.76,1076.36 228.09,1076.11 228.42,1076.56 228.75,1077.49 229.08,1078.86 229.41,1080.60 229.74,1082.65 230.07,1084.94 230.40,1087.43 230.73,1090.05 231.06,1092.75 231.39,1095.45 231.72,1098.11 232.05,1100.66 232.38,1103.05 232.71,1105.21 233.04,1107.08 233.37,1108.61 233.70,1109.73 234.03,1110.39 234.36,1110.54 234.69,1110.47 235.02,1110.30 235.35,1110.05 235.68,1109.73 236.00,1109.36 236.33,1108.95 236.66,1108.51 236.99,1108.06 237.32,1107.60 237.65,1107.16 237.98,1106.73 238.31,1106.34 238.64,1106.00 238.97,1105.72 239.30,1105.52 239.63,1105.40 239.96,1105.39 240.29,1105.58 240.62,1105.99 240.95,1106.57 241.28,1107.31 241.61,1108.17 241.94,1109.12 242.27,1110.14 242.60,1111.20 242.93,1112.27 243.26,1113.31 243.59,1114.31 243.92,1115.23 244.25,1116.04 244.58,1116.72 244.90,1117.23 245.23,1117.55 245.56,1117.64 245.89,1117.44 246.22,1116.91 246.55,1116.09 246.88,1115.00 247.21,1113.67 247.54,1112.13 247.87,1110.40 248.20,1108.52 248.53,1106.50 248.86,1104.38 249.19,1102.19 249.52,1099.95 249.85,1097.69 250.18,1095.06 250.51,1091.51 250.84,1087.15 251.17,1082.07 251.50,1076.40 251.83,1070.23 252.16,1063.69 252.49,1056.87 252.82,1049.90 253.15,1042.88 253.47,1035.91 253.80,1029.12 254.13,1022.61 254.46,1016.49 254.79,1010.86 255.12,1005.85 255.45,1001.56 255.78,998.09 256.11,995.57 256.44,994.09 256.77,993.79 257.10,994.82 257.43,997.17 257.76,1000.72 258.09,1005.38 258.42,1011.03 258.75,1017.59 259.08,1024.93 259.41,1032.96 259.74,1041.58 260.07,1050.67 260.40,1060.15 260.73,1069.89 261.06,1079.80 261.39,1089.77 261.72,1099.70 262.05,1109.49 262.37,1119.03 262.70,1128.21 263.03,1136.94 263.36,1145.11 263.69,1152.61 264.02,1159.34 264.35,1165.20 264.68,1170.08 265.01,1173.88 265.34,1176.50 265.67,1177.83 266.00,1177.84 266.33,1176.94 266.66,1175.24 266.99,1172.80 267.32,1169.68 267.65,1165.94 267.98,1161.65 268.31,1156.87 268.64,1151.66 268.97,1146.08 269.30,1140.20 269.63,1134.07 269.96,1127.76 270.29,1121.33 270.62,1114.85 270.94,1108.37 271.27,1101.95 271.60,1095.67 271.93,1089.58 272.26,1083.74 272.59,1078.21 272.92,1073.07 273.25,1068.36 273.58,1064.15 273.91,1060.51 274.24,1057.50 274.57,1055.17 274.90,1053.59 275.23,1052.82 275.56,1052.92 275.89,1053.87 276.22,1055.58 276.55,1057.99 276.88,1061.02 277.21,1064.58 277.54,1068.61 277.87,1073.03 278.20,1077.76 278.53,1082.72 278.86,1087.85 279.19,1093.05 279.52,1098.27 279.84,1103.41 280.17,1108.40 280.50,1113.17 280.83,1117.64 281.16,1121.74 281.49,1125.38 281.82,1128.50 282.15,1131.01 282.48,1132.84 282.81,1133.91 283.14,1134.16 283.47,1133.90 283.80,1133.29 284.13,1132.36 284.46,1131.12 284.79,1129.59 285.12,1127.80 285.45,1125.76 285.78,1123.50 286.11,1121.03 286.44,1118.37 286.77,1115.55 287.10,1112.58 287.43,1109.48 287.76,1106.27 288.09,1102.98 288.41,1099.62 288.74,1096.22 289.07,1092.78 289.40,1089.34 289.73,1085.91 290.06,1082.51 290.39,1079.17 290.72,1075.89 291.05,1072.71 291.38,1069.64 291.71,1066.70 292.04,1063.91 292.37,1061.29 292.70,1058.86 293.03,1056.65 293.36,1054.66 293.69,1052.92 294.02,1051.46 294.35,1050.28 294.68,1049.42 295.01,1048.88 295.34,1048.70 295.67,1049.00 296.00,1049.88 296.33,1051.31 296.66,1053.26 296.99,1055.67 297.31,1058.52 297.64,1061.76 297.97,1065.36 298.30,1069.29 298.63,1073.49 298.96,1077.94 299.29,1082.60 299.62,1087.43 299.95,1092.38 300.28,1097.44 300.61,1102.54 300.94,1107.67 301.27,1112.77 301.60,1117.82 301.93,1122.77 302.26,1127.59 302.59,1132.24 302.92,1136.68 303.25,1140.87 303.58,1144.78 303.91,1148.36 304.24,1151.58 304.57,1154.41 304.90,1156.80 305.23,1158.72 305.56,1160.12 305.88,1160.98 306.21,1161.24 306.54,1161.02 306.87,1160.40 307.20,1159.41 307.53,1158.07 307.86,1156.40 308.19,1154.40 308.52,1152.12 308.85,1149.55 309.18,1146.72 309.51,1143.66 309.84,1140.37 310.17,1136.87 310.50,1133.19 310.83,1129.35 311.16,1125.36 311.49,1121.23 311.82,1117.00 312.15,1112.67 312.48,1108.27 312.81,1103.82 313.14,1099.33 313.47,1094.82 313.80,1090.32 314.13,1085.83 314.46,1081.38 314.78,1076.99 315.11,1072.68 315.44,1068.45 315.77,1064.34 316.10,1060.37 316.43,1056.54 316.76,1052.88 317.09,1049.41 317.42,1046.15 317.75,1043.11 318.08,1040.31 318.41,1037.77 318.74,1035.52 319.07,1033.56 319.40,1031.93 319.73,1030.63 320.06,1029.68 320.39,1029.11 320.72,1028.93 321.05,1029.53 321.38,1031.16 321.71,1033.74 322.04,1037.21 322.37,1041.47 322.70,1046.46 323.03,1052.10 323.35,1058.31 323.68,1065.02 324.01,1072.16 324.34,1079.64 324.67,1087.39 325.00,1095.33 325.33,1103.40 325.66,1111.50 325.99,1119.58 326.32,1127.54 326.65,1135.32 326.98,1142.84 327.31,1150.02 327.64,1156.79 327.97,1163.07 328.30,1168.79 328.63,1173.86 328.96,1178.22 329.29,1181.79 329.62,1184.49 329.95,1186.24 330.28,1186.98 330.61,1186.63 330.94,1185.22 331.27,1182.83 331.60,1179.52 331.93,1175.36 332.25,1170.43 332.58,1164.80 332.91,1158.54 333.24,1151.72 333.57,1144.41 333.90,1136.68 334.23,1128.60 334.56,1120.25 334.89,1111.69 335.22,1103.00 335.55,1094.25 335.88,1085.51 336.21,1076.85 336.54,1068.33 336.87,1060.04 337.20,1052.05 337.53,1044.41 337.86,1037.22 338.19,1030.53 338.52,1024.42 338.85,1018.95 339.18,1014.21 339.51,1010.26 339.84,1007.17 340.17,1005.01 340.50,1003.86 340.82,1003.78 341.15,1004.74 341.48,1006.69 341.81,1009.54 342.14,1013.23 342.47,1017.70 342.80,1022.88 343.13,1028.70 343.46,1035.09 343.79,1042.00 344.12,1049.34 344.45,1057.06 344.78,1065.08 345.11,1073.34 345.44,1081.78 345.77,1090.32 346.10,1098.90 346.43,1107.45 346.76,1115.90 347.09,1124.20 347.42,1132.26 347.75,1140.02 348.08,1147.43 348.41,1154.40 348.74,1160.87 349.07,1166.78 349.40,1172.06 349.72,1176.64 350.05,1180.45 350.38,1183.43 350.71,1185.51 351.04,1186.62 351.37,1186.71 351.70,1185.90 352.03,1184.24 352.36,1181.81 352.69,1178.64 353.02,1174.81 353.35,1170.35 353.68,1165.32 354.01,1159.79 354.34,1153.79 354.67,1147.39 355.00,1140.64 355.33,1133.60 355.66,1126.31 355.99,1118.83 356.32,1111.22 356.65,1103.52 356.98,1095.80 357.31,1088.11 357.64,1080.50 357.97,1073.02 358.29,1065.73 358.62,1058.68 358.95,1051.93 359.28,1045.53 359.61,1039.53 359.94,1033.99 360.27,1028.97 360.60,1024.51 360.93,1020.67 361.26,1017.50 361.59,1015.06 361.92,1013.41 362.25,1012.58 362.58,1012.69 362.91,1013.90 363.24,1016.15 363.57,1019.38 363.90,1023.50 364.23,1028.44 364.56,1034.13 364.89,1040.49 365.22,1047.44 365.55,1054.91 365.88,1062.82 366.21,1071.09 366.54,1079.66 366.87,1088.44 367.19,1097.35 367.52,1106.33 367.85,1115.29 368.18,1124.17 368.51,1132.87 368.84,1141.34 369.17,1149.49 369.50,1157.24 369.83,1164.53 370.16,1171.27 370.49,1177.39 370.82,1182.81 371.15,1187.46 371.48,1191.26 371.81,1194.14 372.14,1196.01 372.47,1196.81 372.80,1196.50 373.13,1195.16 373.46,1192.88 373.79,1189.71 374.12,1185.73 374.45,1181.00 374.78,1175.61 375.11,1169.60 375.44,1163.06 375.76,1156.06 376.09,1148.65 376.42,1140.92 376.75,1132.93 377.08,1124.75 377.41,1116.45 377.74,1108.10 378.07,1099.76 378.40,1091.52 378.73,1083.42 379.06,1075.56 379.39,1067.99 379.72,1060.78 380.05,1054.00 380.38,1047.73 380.71,1042.03 381.04,1036.97 381.37,1032.62 381.70,1029.05 382.03,1026.32 382.36,1024.52 382.69,1023.70 383.02,1023.90 383.35,1025.05 383.68,1027.07 384.01,1029.90 384.34,1033.49 384.66,1037.77 384.99,1042.67 385.32,1048.15 385.65,1054.14 385.98,1060.57 386.31,1067.39 386.64,1074.53 386.97,1081.93 387.30,1089.53 387.63,1097.28 387.96,1105.10 388.29,1112.95 388.62,1120.74 388.95,1128.44 389.28,1135.96 389.61,1143.26 389.94,1150.27 390.27,1156.93 390.60,1163.18 390.93,1168.96 391.26,1174.20 391.59,1178.85 391.92,1182.84 392.25,1186.11 392.58,1188.61 392.91,1190.26 393.23,1191.01 393.56,1190.77 393.89,1189.43 394.22,1187.08 394.55,1183.78 394.88,1179.62 395.21,1174.68 395.54,1169.03 395.87,1162.75 396.20,1155.91 396.53,1148.61 396.86,1140.91 397.19,1132.89 397.52,1124.64 397.85,1116.22 398.18,1107.72 398.51,1099.22 398.84,1090.79 399.17,1082.51 399.50,1074.46 399.83,1066.72 400.16,1059.36 400.49,1052.47 400.82,1046.11 401.15,1040.38 401.48,1035.35 401.81,1031.09 402.13,1027.68 402.46,1025.21 402.79,1023.74 403.12,1023.36 403.45,1023.95 403.78,1025.35 404.11,1027.53 404.44,1030.40 404.77,1033.91 405.10,1038.00 405.43,1042.60 405.76,1047.66 406.09,1053.11 406.42,1058.88 406.75,1064.93 407.08,1071.17 407.41,1077.56 407.74,1084.03 408.07,1090.52 408.40,1096.97 408.73,1103.31 409.06,1109.48 409.39,1115.42 409.72,1121.07 410.05,1126.37 410.38,1131.25 410.70,1135.65 411.03,1139.51 411.36,1142.77 411.69,1145.37 412.02,1147.24 412.35,1148.32 412.68,1148.57 413.01,1148.49 413.34,1148.32 413.67,1148.06 414.00,1147.70 414.33,1147.26 414.66,1146.74 414.99,1146.14 415.32,1145.47 415.65,1144.73 415.98,1143.92 416.31,1143.05 416.64,1142.13 416.97,1141.15 417.30,1140.11 417.63,1139.04 417.96,1137.92 418.29,1136.76 418.62,1135.31 418.95,1132.85 419.28,1129.46 419.60,1125.26 419.93,1120.36 420.26,1114.89 420.59,1108.97 420.92,1102.71 421.25,1096.23 421.58,1089.66 421.91,1083.11 422.24,1076.70 422.57,1070.55 422.90,1064.79 423.23,1059.53 423.56,1054.88 423.89,1050.98 424.22,1047.94 424.55,1045.87 424.88,1044.90 425.21,1044.96 425.54,1045.49 425.87,1046.40 426.20,1047.63 426.53,1049.12 426.86,1050.82 427.19,1052.66 427.52,1054.60 427.85,1056.55 428.17,1058.48 428.50,1060.39 428.83,1062.62 429.16,1065.17 429.49,1068.03 429.82,1071.16 430.15,1074.53 430.48,1078.13 430.81,1081.91 431.14,1085.84 431.47,1089.91 431.80,1094.08 432.13,1098.32 432.46,1102.59 432.79,1106.89 433.12,1111.16 433.45,1115.39 433.78,1119.54 434.11,1123.60 434.44,1127.51 434.77,1131.27 435.10,1134.84 435.43,1138.18 435.76,1141.28 436.09,1144.10 436.42,1146.61 436.75,1148.79 437.07,1150.60 437.40,1152.01 437.73,1153.01 438.06,1153.55 438.39,1153.55 438.72,1152.50 439.05,1150.37 439.38,1147.31 439.71,1143.45 440.04,1138.94 440.37,1133.92 440.70,1128.52 441.03,1122.88 441.36,1117.15 441.69,1111.47 442.02,1105.96 442.35,1100.78 442.68,1096.06 443.01,1091.94 443.34,1088.57 443.67,1086.07 444.00,1084.07 444.33,1082.26 444.66,1080.69 444.99,1079.41 445.32,1078.50 445.64,1077.78 445.97,1077.15 446.30,1076.59 446.63,1076.09 446.96,1075.66 447.29,1075.27 447.62,1074.92 447.95,1074.60 448.28,1074.30 448.61,1074.00 448.94,1073.70 449.27,1073.41 449.60,1073.14 449.93,1072.90 450.26,1072.69 450.59,1072.53 450.92,1072.40 451.25,1072.34 451.58,1072.40 451.91,1073.33 452.24,1075.24 452.57,1078.06 452.90,1081.69 453.23,1086.06 453.56,1091.07 453.89,1096.64 454.22,1102.68 454.54,1109.11 454.87,1115.85 455.20,1122.80 455.53,1129.88 455.86,1137.02 456.19,1144.11 456.52,1151.08 456.85,1157.84 457.18,1164.31 457.51,1170.40 457.84,1176.02 458.17,1181.09 458.50,1185.52 458.83,1189.24 459.16,1192.14 459.49,1194.15 459.82,1195.19 460.15,1195.17 460.48,1194.16 460.81,1192.22 461.14,1189.43 461.47,1185.84 461.80,1181.53 462.13,1176.56 462.46,1171.00 462.79,1164.91 463.11,1158.37 463.44,1151.43 463.77,1144.17 464.10,1136.66 464.43,1128.95 464.76,1121.11 465.09,1113.22 465.42,1105.34 465.75,1097.54 466.08,1089.88 466.41,1082.42 466.74,1075.24 467.07,1068.41 467.40,1061.98 467.73,1056.03 468.06,1050.63 468.39,1045.83 468.72,1041.71 469.05,1038.33 469.38,1035.76 469.71,1034.07 470.04,1033.32 470.37,1033.59 470.70,1034.92 471.03,1037.21 471.36,1040.40 471.69,1044.40 472.01,1049.13 472.34,1054.52 472.67,1060.49 473.00,1066.95 473.33,1073.82 473.66,1081.04 473.99,1088.51 474.32,1096.16 474.65,1103.91 474.98,1111.69 475.31,1119.40 475.64,1126.97 475.97,1134.33 476.30,1141.38 476.63,1148.07 476.96,1154.29 477.29,1159.98 477.62,1165.06 477.95,1169.44 478.28,1173.05 478.61,1175.81 478.94,1177.63 479.27,1178.44 479.60,1178.22 479.93,1177.07 480.26,1175.06 480.59,1172.26 480.91,1168.72 481.24,1164.51 481.57,1159.67 481.90,1154.28 482.23,1148.40 482.56,1142.07 482.89,1135.38 483.22,1128.36 483.55,1121.09 483.88,1113.62 484.21,1106.02 484.54,1098.34 484.87,1090.65 485.20,1083.00 485.53,1075.45 485.86,1068.07 486.19,1060.92 486.52,1054.05 486.85,1047.52 487.18,1041.41 487.51,1035.75 487.84,1030.62 488.17,1026.08 488.50,1022.18 488.83,1018.99 489.16,1016.57 489.48,1014.97 489.81,1014.26 490.14,1014.58 490.47,1016.16 490.80,1018.92 491.13,1022.78 491.46,1027.64 491.79,1033.44 492.12,1040.08 492.45,1047.48 492.78,1055.55 493.11,1064.20 493.44,1073.37 493.77,1082.95 494.10,1092.87 494.43,1103.04 494.76,1113.37 495.09,1123.78 495.42,1134.20 495.75,1144.52 496.08,1154.67 496.41,1164.56 496.74,1174.11 497.07,1183.23 497.40,1191.84 497.73,1199.85 498.06,1207.19 498.38,1213.75 498.71,1219.47 499.04,1224.25 499.37,1228.02 499.70,1230.67 500.03,1232.14 500.36,1232.36 500.69,1231.51 501.02,1229.71 501.35,1227.01 501.68,1223.48 502.01,1219.18 502.34,1214.16 502.67,1208.49 503.00,1202.21 503.33,1195.40 503.66,1188.11 503.99,1180.39 504.32,1172.31 504.65,1163.92 504.98,1155.29 505.31,1146.47 505.64,1137.52 505.97,1128.51 506.30,1119.48 506.63,1110.49 506.95,1101.62 507.28,1092.91 507.61,1084.42 507.94,1076.22 508.27,1068.35 508.60,1060.89 508.93,1053.88 509.26,1047.40 509.59,1041.48 509.92,1036.21 510.25,1031.62 510.58,1027.79 510.91,1024.77 511.24,1022.62 511.57,1021.39 511.90,1021.15 512.23,1021.85 512.56,1023.41 512.89,1025.77 513.22,1028.88 513.55,1032.67 513.88,1037.09 514.21,1042.07 514.54,1047.56 514.87,1053.50 515.20,1059.83 515.53,1066.48 515.85,1073.41 516.18,1080.55 516.51,1087.84 516.84,1095.23 517.17,1102.65 517.50,1110.04 517.83,1117.35 518.16,1124.52 518.49,1131.49 518.82,1138.20 519.15,1144.58 519.48,1150.59 519.81,1156.15 520.14,1161.22 520.47,1165.74 520.80,1169.64 521.13,1172.86 521.46,1175.35 521.79,1177.04 522.12,1177.89 522.45,1177.87 522.78,1177.19 523.11,1175.91 523.44,1174.07 523.77,1171.70 524.10,1168.83 524.42,1165.52 524.75,1161.78 525.08,1157.66 525.41,1153.20 525.74,1148.42 526.07,1143.37 526.40,1138.08 526.73,1132.59 527.06,1126.94 527.39,1121.15 527.72,1115.27 528.05,1109.34 528.38,1103.38 528.71,1097.43 529.04,1091.54 529.37,1085.74 529.70,1080.06 530.03,1074.53 530.36,1069.21 530.69,1064.11 531.02,1059.29 531.35,1054.76 531.68,1050.58 532.01,1046.78 532.34,1043.38 532.67,1040.44 533.00,1037.98 533.32,1036.04 533.65,1034.66 533.98,1033.87 534.31,1033.73 534.64,1034.53 534.97,1036.32 535.30,1039.03 535.63,1042.59 535.96,1046.93 536.29,1051.96 536.62,1057.63 536.95,1063.84 537.28,1070.54 537.61,1077.64 537.94,1085.07 538.27,1092.77 538.60,1100.64 538.93,1108.63 539.26,1116.66 539.59,1124.65 539.92,1132.54 540.25,1140.24 540.58,1147.68 540.91,1154.79 541.24,1161.50 541.57,1167.74 541.89,1173.42 542.22,1178.48 542.55,1182.84 542.88,1186.42 543.21,1189.17 543.54,1190.99 543.87,1191.82 544.20,1191.70 544.53,1190.96 544.86,1189.63 545.19,1187.75 545.52,1185.36 545.85,1182.50 546.18,1179.19 546.51,1175.48 546.84,1171.39 547.17,1166.97 547.50,1162.24 547.83,1157.24 548.16,1152.01 548.49,1146.58 548.82,1140.99 549.15,1135.26 549.48,1129.44 549.81,1123.56 550.14,1117.65 550.47,1111.75 550.79,1105.90 551.12,1100.12 551.45,1094.46 551.78,1088.94 552.11,1083.60 552.44,1078.48 552.77,1073.62 553.10,1069.03 553.43,1064.77 553.76,1060.87 554.09,1057.35 554.42,1054.26 554.75,1051.63 555.08,1049.49 555.41,1047.88 555.74,1046.83 556.07,1046.38 556.40,1046.60 556.73,1047.56 557.06,1049.21 557.39,1051.50 557.72,1054.40 558.05,1057.86 558.38,1061.83 558.71,1066.26 559.04,1071.11 559.36,1076.33 559.69,1081.88 560.02,1087.71 560.35,1093.78 560.68,1100.04 561.01,1106.44 561.34,1112.94 561.67,1119.50 562.00,1126.05 562.33,1132.57 562.66,1139.01 562.99,1145.31 563.32,1151.44 563.65,1157.34 563.98,1162.98 564.31,1168.30 564.64,1173.26 564.97,1177.82 565.30,1181.92 565.63,1185.53 565.96,1188.59 566.29,1191.07 566.62,1192.91 566.95,1194.07 567.28,1194.50 567.61,1193.99 567.94,1192.36 568.26,1189.70 568.59,1186.12 568.92,1181.71 569.25,1176.56 569.58,1170.78 569.91,1164.47 570.24,1157.71 570.57,1150.60 570.90,1143.26 571.23,1135.76 571.56,1128.21 571.89,1120.71 572.22,1113.34 572.55,1106.22 572.88,1099.44 573.21,1093.09 573.54,1087.27 573.87,1082.08 574.20,1077.62 574.53,1073.98 574.86,1071.26 575.19,1069.56 575.52,1068.98 575.85,1070.31 576.18,1074.06 576.51,1079.86 576.83,1087.34 577.16,1096.17 577.49,1105.96 577.82,1116.37 578.15,1127.03 578.48,1137.59 578.81,1148.59 579.14,1161.73 579.47,1176.75 579.80,1193.33 580.13,1211.14 580.46,1229.85 580.79,1249.12 581.12,1268.64 581.45,1288.07 581.78,1307.08 582.11,1325.34 582.44,1342.53 582.77,1358.30 583.10,1372.34 583.43,1383.80" fill="none" stroke="#000" stroke-width="5.0" stroke-linejoin="round" stroke-linecap="butt"/>
<rect x="122.1" y="935.1" width="9.4" height="9.4" fill="#7824c0"/>
<rect x="149.8" y="956.0" width="9.4" height="9.4" fill="#7824c0"/>
<rect x="178.9" y="1003.3" width="9.4" height="9.4" fill="#7824c0"/>
<rect x="206.6" y="1051.0" width="9.4" height="9.4" fill="#7824c0"/>
<rect x="235.3" y="1106.6" width="9.4" height="9.4" fill="#7824c0"/>
<rect x="264.4" y="1133.7" width="9.4" height="9.4" fill="#7824c0"/>
<rect x="292.6" y="1176.3" width="9.4" height="9.4" fill="#7824c0"/>
<rect x="321.2" y="1209.0" width="9.4" height="9.4" fill="#7824c0"/>
<rect x="349.7" y="1228.0" width="9.4" height="9.4" fill="#7824c0"/>
<rect x="377.8" y="1250.7" width="9.4" height="9.4" fill="#7824c0"/>
<rect x="406.6" y="1269.4" width="9.4" height="9.4" fill="#7824c0"/>
<rect x="434.5" y="1274.3" width="9.4" height="9.4" fill="#7824c0"/>
<rect x="463.4" y="1279.0" width="9.4" height="9.4" fill="#7824c0"/>
<rect x="492.0" y="1298.5" width="9.4" height="9.4" fill="#7824c0"/>
<rect x="520.1" y="1293.5" width="9.4" height="9.4" fill="#7824c0"/>
<rect x="548.5" y="1295.5" width="9.4" height="9.4" fill="#7824c0"/>
<rect x="577.0" y="1277.4" width="9.4" height="9.4" fill="#7824c0"/>
<polygon points="602.40,1269.60 605.46,1277.39 613.81,1277.89 607.35,1283.21 609.45,1291.31 602.40,1286.80 595.35,1291.31 597.45,1283.21 590.99,1277.89 599.34,1277.39" fill="#1a6ec8"/>
<text x="632.0" y="1297.6" font-size="30.2" fill="#1a4ba0">100 °C</text>
<text x="587.5" y="1325.1" font-size="30.2" fill="#1a4ba0">failure marker</text>
<rect x="127.4" y="828.6" width="316" height="82" fill="#fff" stroke="#a4a4a4" stroke-width="1.8"/>
<line x1="131.4" y1="850.1" x2="202.2" y2="850.1" stroke="#000" stroke-width="5" stroke-linecap="round"/>
<text x="212.3" y="860.2" font-size="31.7">Cell Heating Rate</text>
<line x1="131.6" y1="889.3" x2="202.7" y2="889.3" stroke="#9c9c9c" stroke-width="2"/>
<rect x="162.7" y="884.7" width="9.2" height="9.2" fill="#7824c0"/>
<text x="211" y="898.7" font-size="31.7">0.1 Hz</text>
<text x="758.5" y="860.4" font-size="38.5">(b)</text>
<text x="104.3" y="1394.6" font-size="32" font-weight="bold" text-anchor="end">0</text>
<text x="104.3" y="1282.4" font-size="32" font-weight="bold" text-anchor="end">2</text>
<text x="104.3" y="1170.3" font-size="32" font-weight="bold" text-anchor="end">4</text>
<text x="104.3" y="1058.1" font-size="32" font-weight="bold" text-anchor="end">6</text>
<text x="104.3" y="946.0" font-size="32" font-weight="bold" text-anchor="end">8</text>
<text x="104.3" y="833.8" font-size="32" font-weight="bold" text-anchor="end">10</text>
<text x="116.3" y="1421.2" font-size="32" font-weight="bold" text-anchor="middle">0</text>
<text x="255.9" y="1421.2" font-size="32" font-weight="bold" text-anchor="middle">5</text>
<text x="395.4" y="1421.2" font-size="32" font-weight="bold" text-anchor="middle">10</text>
<text x="535.0" y="1421.2" font-size="32" font-weight="bold" text-anchor="middle">15</text>
<text x="674.5" y="1421.2" font-size="32" font-weight="bold" text-anchor="middle">20</text>
<text x="814.1" y="1421.2" font-size="32" font-weight="bold" text-anchor="middle">25</text>
<text x="825.4" y="1394.4" font-size="31.6" font-weight="bold" fill="#7012b8">0.0012</text>
<text x="825.4" y="1282.2" font-size="31.6" font-weight="bold" fill="#7012b8">0.0018</text>
<text x="825.4" y="1170.1" font-size="31.6" font-weight="bold" fill="#7012b8">0.0024</text>
<text x="825.4" y="1057.9" font-size="31.6" font-weight="bold" fill="#7012b8">0.0030</text>
<text x="825.4" y="945.8" font-size="31.6" font-weight="bold" fill="#7012b8">0.0036</text>
<text x="825.4" y="833.6" font-size="31.6" font-weight="bold" fill="#7012b8">0.0042</text>
<text x="464.6" y="1486.9" font-size="47.2" text-anchor="middle">Time, min</text>
<text transform="translate(37.6,1295.2) rotate(-90)" font-size="48.0">Heating Rate, °C/min</text>
<text transform="translate(985.5,1382.2) rotate(-90)" font-size="46.6" fill="#7012b8">Impedance Magnitude</text>
<text transform="translate(977.9,956.9) rotate(-90)" font-size="59.3" fill="#7012b8">|</text>
<text transform="translate(977.9,900.8) rotate(-90)" font-size="59.3" fill="#7012b8">|</text>
<text transform="translate(985.5,939.4) rotate(-90)" font-size="46.6" fill="#7012b8" textLength="32.4" lengthAdjust="spacingAndGlyphs">Z</text>
<text transform="translate(985.5,879.3) rotate(-90)" font-size="46.6" fill="#7012b8">,</text>
<text transform="translate(985.5,857.9) rotate(-90)" font-size="46.6" fill="#7012b8" textLength="39.3" lengthAdjust="spacingAndGlyphs">Ω</text>
</svg>
</body></html>
